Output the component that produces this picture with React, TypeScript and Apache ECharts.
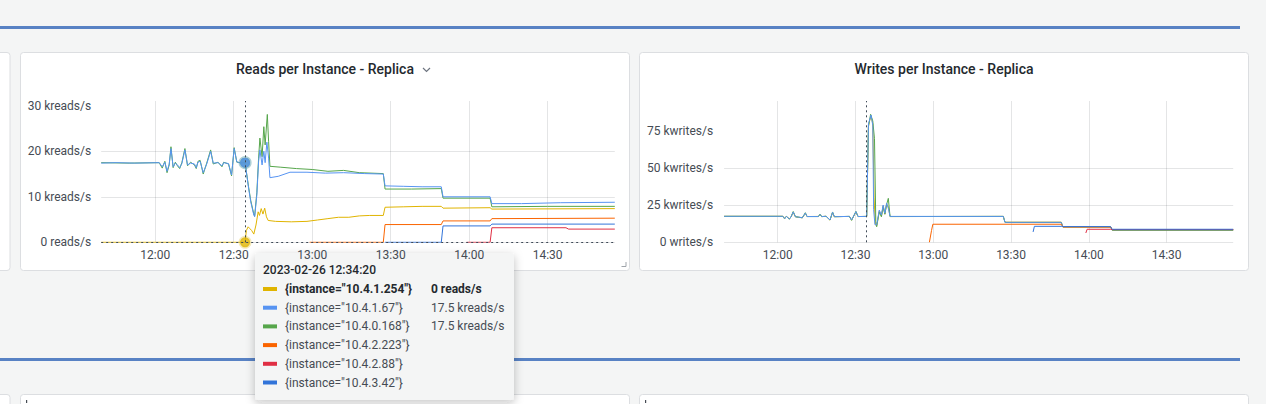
import React, { useEffect, useRef } from "react";
import * as echarts from "echarts";

type Pt = [string, number];

const instances = ["10.4.1.254", "10.4.1.67", "10.4.0.168", "10.4.2.223", "10.4.2.88", "10.4.3.42"];
const seriesColors = ["#E0B400", "#5794F2", "#56A64B", "#FA6400", "#E02F44", "#3274D9"];
// drawing order (later = on top)
const drawOrder = [0, 2, 1, 3, 4, 5];

const panelTitles = ["Reads per Instance - Replica", "Writes per Instance - Replica"];
const xTickTimes = ["12:00", "12:30", "13:00", "13:30", "14:00", "14:30"];
const readTicks = [0, 10, 20, 30];
const writeTicks = [0, 25, 50, 75];
const rangeStart = "11:39:20";
const rangeEnd = "14:55:40";
const cursorTime = "12:34:20";
const tooltipDate = "2023-02-26";
const hoverReads = [0, 17.5, 17.5];

// Reads per instance (kreads/s)
const reads254: Pt[] = [["11:39:20",0],["12:34:20",0],["12:34:50",2.6],["12:35:30",3.4],["12:36:10",3.0],["12:36:50",2.6],["12:37:40",1.8],["12:38:30",3.8],["12:39:20",6.7],["12:39:50",5.9],["12:40:30",7.4],["12:41:10",6.2],["12:41:50",7.5],["12:42:30",5.6],["12:43:10",4.8],["12:46:00",4.6],["12:52:00",4.5],["12:58:00",4.6],["13:02:00",4.9],["13:06:00",5.2],["13:10:00",5.5],["13:14:00",5.5],["13:18:00",5.8],["13:22:00",5.9],["13:27:10",5.9],["13:27:50",7.7],["13:35:00",7.8],["13:42:00",7.9],["13:49:20",7.9],["13:50:00",7.5],["14:08:00",7.6],["14:08:40",7.3],["14:55:40",7.4]];
const reads67: Pt[] = [["11:39:20",17.4],["11:45:00",17.5],["11:52:00",17.4],["12:01:30",17.5],["12:02:40",16.6],["12:03:40",17.6],["12:04:30",15.6],["12:05:20",17.2],["12:06:00",20.6],["12:06:50",16.6],["12:07:40",17.4],["12:08:30",17.0],["12:09:20",16.4],["12:10:10",17.3],["12:11:20",20.3],["12:12:20",17.0],["12:13:30",17.4],["12:15:00",17.2],["12:15:40",16.4],["12:16:20",17.6],["12:17:10",17.8],["12:18:20",15.3],["12:19:40",17.2],["12:21:10",20.0],["12:22:10",17.4],["12:24:00",17.5],["12:25:30",16.8],["12:26:10",17.5],["12:28:00",17.3],["12:29:10",14.8],["12:30:10",20.6],["12:31:10",17.7],["12:32:30",17.4],["12:34:20",17.5],["12:35:40",11.9],["12:36:30",8.9],["12:37:40",6.0],["12:38:00",5.6],["12:38:50",10.4],["12:39:30",17.7],["12:40:00",20.3],["12:40:50",17.0],["12:41:30",20.0],["12:42:00",17.5],["12:42:40",22.0],["12:43:20",18.5],["12:43:50",14.2],["12:47:00",14.5],["12:51:30",15.4],["12:58:00",15.4],["13:05:00",15.2],["13:12:00",15.3],["13:20:00",15.1],["13:27:10",15.0],["13:27:50",12.4],["13:35:00",12.3],["13:42:00",12.2],["13:49:20",12.2],["13:50:00",10.0],["14:08:00",10.0],["14:08:40",8.5],["14:20:00",8.5],["14:35:00",8.7],["14:55:40",8.8]];
const reads168: Pt[] = [["11:39:20",17.5],["11:50:00",17.4],["12:01:30",17.5],["12:02:40",16.3],["12:03:40",17.8],["12:04:30",15.3],["12:05:20",17.0],["12:06:00",21.0],["12:06:50",16.4],["12:07:40",17.6],["12:08:30",16.8],["12:09:20",16.2],["12:10:10",17.5],["12:11:20",20.6],["12:12:20",16.8],["12:13:30",17.6],["12:15:00",17.0],["12:15:40",16.2],["12:16:20",17.8],["12:17:10",18.0],["12:18:20",15.0],["12:19:40",17.4],["12:21:10",20.3],["12:22:10",17.2],["12:24:00",17.6],["12:25:30",16.6],["12:26:10",17.6],["12:28:00",17.2],["12:29:10",14.6],["12:30:10",20.8],["12:31:10",17.6],["12:32:30",17.5],["12:34:20",17.5],["12:35:40",12.2],["12:36:30",9.2],["12:37:40",6.2],["12:38:00",5.8],["12:38:50",11.0],["12:39:30",18.5],["12:40:00",22.9],["12:40:50",18.8],["12:41:30",25.4],["12:42:00",21.4],["12:42:50",28.1],["12:43:20",22.1],["12:43:50",16.7],["12:48:00",16.5],["12:54:00",16.2],["13:00:00",16.0],["13:06:00",15.6],["13:12:00",15.8],["13:18:00",15.3],["13:27:10",15.1],["13:27:50",11.7],["13:38:00",11.7],["13:49:20",11.8],["13:50:00",9.7],["14:08:00",9.7],["14:08:40",7.8],["14:30:00",7.9],["14:55:40",7.9]];
const reads223: Pt[] = [["12:59:00",0],["13:27:10",0],["13:27:50",3.9],["13:49:20",3.9],["13:50:00",4.7],["14:08:00",4.7],["14:08:40",5.2],["14:55:40",5.3]];
const reads88: Pt[] = [["13:59:00",0],["14:08:00",0],["14:08:40",3.2],["14:37:00",3.2],["14:38:00",2.9],["14:55:40",2.9]];
const reads342: Pt[] = [["13:27:50",0],["13:49:20",0],["13:50:00",3.6],["14:08:00",3.6],["14:08:40",4.0],["14:55:40",4.0]];

// Writes per instance (kwrites/s)
const writes254: Pt[] = [["11:39:20",17.6],["12:02:00",17.6],["12:02:40",16.2],["12:03:20",17.5],["12:04:30",15.9],["12:05:10",17.2],["12:06:00",20.3],["12:06:50",17.3],["12:08:00",16.8],["12:09:30",16.6],["12:10:40",19.6],["12:11:20",17.4],["12:15:40",17.5],["12:16:20",18.6],["12:17:00",17.4],["12:18:40",17.6],["12:20:10",15.0],["12:21:10",20.0],["12:21:50",17.3],["12:27:40",17.5],["12:28:30",15.0],["12:30:10",20.5],["12:31:00",17.4],["12:34:20",17.5],["12:35:00",79],["12:36:00",85.5],["12:36:40",80],["12:37:10",30],["12:37:40",12],["12:38:10",11.0],["12:39:10",21.0],["12:40:00",17.8],["12:40:40",24.6],["12:41:20",19.0],["12:42:00",25.8],["12:42:40",24.0],["12:43:20",17.4],["13:27:00",17.5],["13:27:40",13.6],["13:49:20",13.6],["13:50:00",10.5],["14:08:20",10.5],["14:09:00",8.4],["14:55:40",8.4]];
const writes67: Pt[] = [["11:39:20",17.6],["12:02:00",17.6],["12:02:40",16.0],["12:03:20",17.5],["12:04:30",15.8],["12:05:10",17.2],["12:06:00",20.5],["12:06:50",17.3],["12:08:00",17.0],["12:09:30",16.6],["12:10:40",19.8],["12:11:20",17.4],["12:15:40",17.4],["12:16:20",18.8],["12:17:00",17.4],["12:18:40",17.6],["12:20:10",15.1],["12:21:10",20.3],["12:21:50",17.3],["12:27:40",17.5],["12:28:30",15.1],["12:30:10",20.7],["12:31:00",17.4],["12:34:20",17.5],["12:35:00",80],["12:36:00",86],["12:36:40",79],["12:37:00",22],["12:37:30",12],["12:38:10",11.7],["12:39:10",21.8],["12:40:00",18.4],["12:40:40",25.2],["12:41:20",19.6],["12:42:00",26.4],["12:42:40",23.0],["12:43:20",17.5],["13:27:00",17.5],["13:27:40",13.5],["13:49:20",13.5],["13:50:00",10.6],["14:08:20",10.6],["14:09:00",8.5],["14:55:40",8.5]];
const writes168: Pt[] = [["11:39:20",17.5],["12:02:00",17.5],["12:02:40",15.8],["12:03:20",17.6],["12:04:30",15.6],["12:05:10",17.3],["12:06:00",20.8],["12:06:50",17.2],["12:08:00",17.1],["12:09:30",16.5],["12:10:40",20.0],["12:11:20",17.4],["12:15:40",17.4],["12:16:20",19.0],["12:17:00",17.3],["12:18:40",17.6],["12:20:10",15.0],["12:21:10",20.5],["12:21:50",17.3],["12:27:40",17.5],["12:28:30",14.8],["12:30:10",20.9],["12:31:00",17.4],["12:34:20",17.5],["12:35:00",78],["12:35:50",86.5],["12:36:40",82],["12:37:20",70],["12:37:50",14],["12:38:10",10.5],["12:39:10",20.5],["12:40:00",17.2],["12:40:40",24.0],["12:41:20",19.0],["12:42:00",25.5],["12:42:40",29.7],["12:43:20",17.4],["13:27:00",17.5],["13:27:40",13.4],["13:49:20",13.4],["13:50:00",10.4],["14:08:20",10.4],["14:09:00",8.1],["14:55:40",8.1]];
const writes223: Pt[] = [["12:58:30",0],["12:59:20",8.0],["12:59:50",12.2],["13:49:20",12.2],["13:50:00",10.3],["14:08:20",10.3],["14:09:00",8.6],["14:55:40",8.6]];
const writes88: Pt[] = [["13:58:50",6.3],["13:59:20",8.8],["14:08:20",8.8],["14:09:00",8.6],["14:55:40",8.6]];
const writes342: Pt[] = [["13:38:30",7.0],["13:39:00",10.8],["13:49:20",10.8],["13:50:00",10.6],["14:08:20",10.6],["14:09:00",8.8],["14:55:40",8.8]];

const readsData = [reads254, reads67, reads168, reads223, reads88, reads342];
const writesData = [writes254, writes67, writes168, writes223, writes88, writes342];

const toMin = (s: string) => {
  const [h, m, sec] = s.split(":").map(Number);
  return h * 60 + m + (sec || 0) / 60;
};
const fmtHM = (v: number) => {
  const h = Math.floor(v / 60 + 1e-9);
  const m = Math.round(v - h * 60);
  return `${h}:${String(m).padStart(2, "0")}`;
};
const fmtReads = (v: number) => (v === 0 ? "0 reads/s" : `${v} kreads/s`);
const fmtWrites = (v: number) => (v === 0 ? "0 writes/s" : `${v} kwrites/s`);

const FONT = "Roboto, 'Noto Sans', sans-serif";
const TEXT = "#24292e";
const TEXT2 = "#464c54";
const GRID = "rgba(36,41,46,0.12)";

export default function App() {
  const ref = useRef<HTMLDivElement>(null);
  useEffect(() => {
    if (!ref.current) return;
    const chart = echarts.init(ref.current, null, { renderer: "svg" });
    const xMin = toMin(rangeStart);
    const xMax = toMin(rangeEnd);
    const xTicks = xTickTimes.map(toMin);
    const cursor = toMin(cursorTime);

    const grids = [
      { left: 101.2, top: 101, width: 513.6, height: 141.3 },
      { left: 724.1, top: 101, width: 509.1, height: 141.3 },
    ];
    const xAxes = grids.map((_, i) => ({
      type: "value",
      gridIndex: i,
      min: xMin,
      max: xMax,
      z: 1,
      axisLine: { show: false },
      axisTick: { show: false, customValues: xTicks },
      axisLabel: { customValues: xTicks, formatter: (v: number) => fmtHM(v), color: TEXT2, fontFamily: FONT, fontSize: 12, margin: 7 },
      splitLine: { show: true, lineStyle: { color: GRID, width: 1 } },
    }));
    const yAxes = [
      { max: 31.05, ticks: readTicks, fmt: fmtReads, margin: 10 },
      { max: 95.47, ticks: writeTicks, fmt: fmtWrites, margin: 11 },
    ].map((a, i) => ({
      type: "value",
      gridIndex: i,
      min: 0,
      max: a.max,
      z: 1,
      axisLine: { show: false },
      axisTick: { show: false, customValues: a.ticks },
      axisLabel: { customValues: a.ticks, formatter: a.fmt, color: TEXT2, fontFamily: FONT, fontSize: 12, margin: a.margin },
      splitLine: { show: true, showMaxLine: false, lineStyle: { color: GRID, width: 1 } },
    }));

    const crossStyle = { color: "#3f4a57", width: 1, type: [2, 3] };
    const mkSeries = (data: Pt[], i: number, g: number, isLast: boolean) => ({
      type: "line",
      name: instances[i],
      xAxisIndex: g,
      yAxisIndex: g,
      data: data.map(([t, v]) => [toMin(t), v]),
      symbol: "none",
      showSymbol: false,
      silent: true,
      z: 3,
      lineStyle: { color: seriesColors[i], width: 1 },
      itemStyle: { color: seriesColors[i] },
      markLine: isLast
        ? {
            silent: true,
            symbol: ["none", "none"],
            label: { show: false },
            lineStyle: crossStyle,
            data: g === 0 ? [{ xAxis: cursor }, { yAxis: hoverReads[0] }] : [{ xAxis: cursor }],
          }
        : undefined,
    });
    const series: any[] = [];
    drawOrder.forEach((i, k) => series.push(mkSeries(readsData[i], i, 0, k === drawOrder.length - 1)));
    drawOrder.forEach((i, k) => series.push(mkSeries(writesData[i], i, 1, k === drawOrder.length - 1)));
    // hover points (green under blue)
    [2, 1, 0].forEach((i) => {
      series.push({
        type: "scatter",
        xAxisIndex: 0,
        yAxisIndex: 0,
        silent: true,
        z: 4,
        symbolSize: 10,
        data: [[cursor, hoverReads[i]]],
        itemStyle: { color: seriesColors[i], borderColor: echarts.color.modifyAlpha(seriesColors[i], 0.35), borderWidth: 3 },
      });
    });

    const panelStyle = { fill: "#ffffff", stroke: "#dcdee1", lineWidth: 1 };
    const graphics: any[] = [
      { type: "rect", z: 0, silent: true, shape: { x: 0, y: 26, width: 1240, height: 3 }, style: { fill: "#5882c4" } },
      { type: "rect", z: 0, silent: true, shape: { x: 0, y: 358, width: 1240, height: 3 }, style: { fill: "#5882c4" } },
      { type: "rect", z: 0, silent: true, shape: { x: -10, y: 52.5, width: 20, height: 218, r: 3 }, style: panelStyle },
      { type: "rect", z: 0, silent: true, shape: { x: 20.5, y: 52.5, width: 609, height: 218, r: 3 }, style: panelStyle },
      { type: "rect", z: 0, silent: true, shape: { x: 639.5, y: 52.5, width: 609, height: 218, r: 3 }, style: panelStyle },
      { type: "rect", z: 0, silent: true, shape: { x: -10, y: 394.5, width: 20, height: 40, r: 3 }, style: panelStyle },
      { type: "rect", z: 0, silent: true, shape: { x: 20.5, y: 394.5, width: 609, height: 40, r: 3 }, style: panelStyle },
      { type: "rect", z: 0, silent: true, shape: { x: 639.5, y: 394.5, width: 609, height: 40, r: 3 }, style: panelStyle },
      { type: "rect", z: 0, silent: true, shape: { x: 26, y: 400, width: 1.2, height: 3 }, style: { fill: TEXT2 } },
      { type: "rect", z: 0, silent: true, shape: { x: 645, y: 400, width: 1.2, height: 3 }, style: { fill: TEXT2 } },
      {
        type: "text", z: 1, silent: true,
        style: { x: 325, y: 69, text: panelTitles[0], align: "center", verticalAlign: "middle", fill: TEXT, fontFamily: FONT, fontSize: 14, fontWeight: 500 },
      },
      {
        type: "polyline", z: 1, silent: true,
        shape: { points: [[423, 68], [426.5, 71.5], [430, 68]] },
        style: { stroke: "#6e7580", lineWidth: 1.2, fill: "none" },
      },
      {
        type: "text", z: 1, silent: true,
        style: { x: 944, y: 69, text: panelTitles[1], align: "center", verticalAlign: "middle", fill: TEXT, fontFamily: FONT, fontSize: 14, fontWeight: 500 },
      },
      {
        type: "polyline", z: 1, silent: true,
        shape: { points: [[626, 262], [626, 266.5], [621.5, 266.5]] },
        style: { stroke: "#9fa4aa", lineWidth: 1, fill: "none" },
      },
    ];

    // tooltip
    const tipChildren: any[] = [
      {
        type: "rect",
        shape: { x: 255, y: 253, width: 259, height: 147, r: 3 },
        style: { fill: "#f4f5f5", shadowBlur: 10, shadowOffsetY: 3, shadowColor: "rgba(24,26,27,0.25)" },
      },
      {
        type: "text",
        style: { x: 263, y: 270, text: `${tooltipDate} ${cursorTime}`, align: "left", verticalAlign: "middle", fill: TEXT, fontFamily: FONT, fontSize: 12, fontWeight: 500 },
      },
    ];
    const rowY = [289, 307.7, 326.4, 345.1, 363.8, 382.5];
    instances.forEach((inst, i) => {
      const active = i === 0;
      tipChildren.push({
        type: "rect",
        shape: { x: 263, y: rowY[i] - 2, width: 14, height: 4 },
        style: { fill: seriesColors[i] },
      });
      tipChildren.push({
        type: "text",
        style: {
          x: 285, y: rowY[i], text: `{instance="${inst}"}`, align: "left", verticalAlign: "middle",
          fill: active ? TEXT : TEXT2, fontFamily: FONT, fontSize: 12, fontWeight: active ? "bold" : "normal",
        },
      });
      if (i < hoverReads.length) {
        tipChildren.push({
          type: "text",
          style: {
            x: 431, y: rowY[i], text: fmtReads(hoverReads[i]), align: "left", verticalAlign: "middle",
            fill: active ? TEXT : TEXT2, fontFamily: FONT, fontSize: 12, fontWeight: active ? "bold" : "normal",
          },
        });
      }
    });
    graphics.push({ type: "group", z: 100, silent: true, children: tipChildren });

    chart.setOption({
      animation: false,
      backgroundColor: "#f4f5f5",
      textStyle: { fontFamily: FONT },
      grid: grids,
      xAxis: xAxes,
      yAxis: yAxes,
      series,
      graphic: { elements: graphics },
    });
    return () => chart.dispose();
  }, []);
  return <div ref={ref} style={{ position: "fixed", left: 0, top: 0, width: 1266, height: 404 }} />;
}
